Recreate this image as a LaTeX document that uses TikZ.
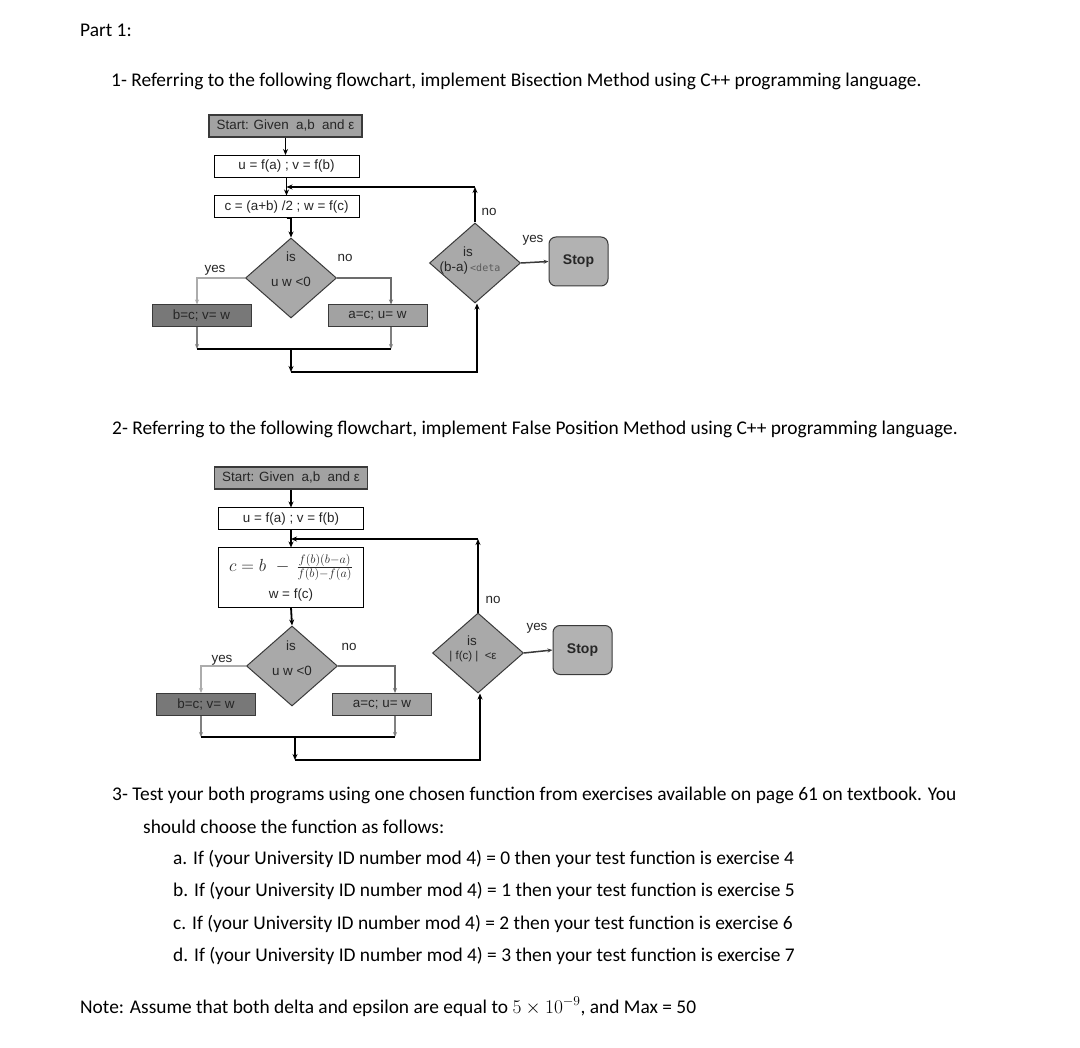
\RequirePackage{fix-cm}
\documentclass[tikz,border=0pt]{standalone}
\usepackage{fontspec}
\usepackage{amsmath}
\setmainfont{Carlito}
\newfontfamily\chartfont{Liberation Sans}
\newfontfamily\detafont{DejaVu Sans Mono}
\usetikzlibrary{shapes.geometric,arrows.meta}

\definecolor{boxline}{HTML}{3A3A3A}
\definecolor{boxgray}{HTML}{A2A2A2}
\definecolor{boxdark}{HTML}{787878}
\definecolor{diagray}{HTML}{A9A9A9}
\definecolor{stopgray}{HTML}{B2B2B2}
\definecolor{inktext}{HTML}{262626}

\tikzset{
	chart/.style={font=\chartfont\fontsize{13.4}{15}\selectfont,text=inktext},
	startbox/.style={chart,draw=boxline,fill=boxgray,line width=1.2pt,minimum width=153pt,minimum height=22pt,inner sep=0pt},
	procbox/.style={chart,draw=black,fill=white,line width=1pt,minimum width=145pt,minimum height=22pt,inner sep=0pt,align=center},
	yesbox/.style={chart,draw=boxline,fill=boxdark,line width=1pt,minimum width=99pt,minimum height=22pt,inner sep=0pt},
	nobox/.style={chart,draw=boxline,fill=boxgray,line width=1pt,minimum width=99pt,minimum height=22pt,inner sep=0pt},
	decision/.style={chart,diamond,draw=boxline,fill=diagray,line width=1pt,minimum width=91pt,minimum height=80pt,inner sep=0pt},
	stopbox/.style={chart,draw=boxline,fill=stopgray,rounded corners=7pt,line width=1pt,minimum width=59pt,minimum height=49pt,font=\chartfont\bfseries\fontsize{14}{16}\selectfont},
	tag/.style={chart,inner sep=0pt},
	flow/.style={line width=1.8pt,-{Stealth[length=6pt,width=5pt]}},
	flowline/.style={line width=1.8pt},
	branch/.style={line width=1.1pt,draw=gray,-{Stealth[length=5pt,width=4pt]}},
	para/.style={font=\fontsize{19.4}{23}\selectfont,anchor=base west,inner sep=0pt},
}

\begin{document}
\begin{tikzpicture}[x=1pt,y=-1pt]
	\fill[white] (0,0) rectangle (1080,1048);
	\useasboundingbox (0,0) rectangle (1080,1048);

	\node[para] (part) at (80,37) {Part 1:};
	\node[para] (task1) at (111,87) {1- Referring to the following flowchart, implement Bisection Method using C++ programming language.};

	\node[startbox] (start1) at (285.5,126) {Start: Given\ \ a,b\ \ and ε};
	\node[procbox] (init1) at (286.5,166.5) {u = f(a) ; v = f(b)};
	\node[procbox] (mid1) at (286.5,207) {c = (a+b) /2 ; w = f(c)};
	\node[decision] (test1) at (291,278) {};
	\node[tag] (test1a) at (291,257) {is};
	\node[tag] (test1b) at (291,282) {u w <0};
	\node[yesbox] (left1) at (201.5,316) {b=c; v= w};
	\node[nobox] (right1) at (377.5,316) {a=c; u= w};
	\node[decision] (test2) at (475,263) {};
	\node[tag] (test2a) at (468,252) {is};
	\node[tag] (test2b) at (470,268) {(b-a)\,{\detafont\fontsize{10}{12}\selectfont\color{inktext!75}<deta}};
	\node[stopbox] (stop1) at (578.5,261.5) {Stop};
	\node[tag] (yes1) at (215,270) {yes};
	\node[tag] (no1) at (345,258) {no};
	\node[tag] (no2) at (489,212) {no};
	\node[tag] (yes2) at (533,240) {yes};
	\coordinate (join1) at (291,349);
	\coordinate (back1) at (291,372);
	\coordinate (loop1) at (475,187);

	\draw[flow] (start1.south) -- (start1.south |- init1.north);
	\draw[flow] (init1) -- (mid1);
	\draw[flow] (mid1.south) -- (mid1.south -| test1.north) -- (test1.north);
	\draw[branch,draw=gray!65] (test1.west) -| ([xshift=-4.5pt]left1.north);
	\draw[branch,draw=gray!85!black] (test1.east) -| ([xshift=13.5pt]right1.north);
	\draw[branch] ([xshift=-4.5pt]left1.south) -- ([xshift=-4.5pt]left1.south |- join1);
	\draw[branch] ([xshift=13.5pt]right1.south) -- ([xshift=13.5pt]right1.south |- join1);
	\draw[flowline] ([xshift=-4.5pt]left1.south |- join1) -- ([xshift=13.5pt]right1.south |- join1);
	\draw[flow] (join1) -- (back1);
	\draw[flow] (back1) -| ([xshift=2pt]test2.south);
	\draw[flow] (test2.north) -- (loop1);
	\draw[flow] (loop1) -- (loop1 -| mid1.north);
	\draw[branch,draw=boxline,line width=1.5pt] (test2.east) -- (stop1.west);

	\node[para] (task2) at (112,435) {2- Referring to the following flowchart, implement False Position Method using C++ programming language.};

	\node[startbox] (start2) at (291,478) {Start: Given\ \ a,b\ \ and ε};
	\node[procbox] (init2) at (291,519) {u = f(a) ; v = f(b)};
	\node[procbox,minimum height=59pt] (mid2) at (291,577.5) {{\fontsize{17.5}{20}\selectfont$c = b\,\,-\,\frac{f(b)(b-a)}{f(b)-f(a)}$}\\[7pt]w = f(c)};
	\node[decision] (test3) at (292,666) {};
	\node[tag] (test3a) at (291,646) {is};
	\node[tag] (test3b) at (292,671) {u w <0};
	\node[yesbox] (left2) at (206,704.5) {b=c; v= w};
	\node[nobox] (right2) at (382,704.5) {a=c; u= w};
	\node[decision] (test4) at (478,653) {};
	\node[tag] (test4a) at (472,641) {is};
	\node[tag,font=\chartfont\fontsize{11.5}{13}\selectfont] (test4b) at (473,657) {| f(c) |\ \ <ε};
	\node[stopbox] (stop2) at (582.5,650) {Stop};
	\node[tag] (yes3) at (222,660) {yes};
	\node[tag] (no3) at (349,647) {no};
	\node[tag] (no4) at (493,600) {no};
	\node[tag] (yes4) at (537,628) {yes};
	\coordinate (join2) at (295,737);
	\coordinate (back2) at (295,760);
	\coordinate (loop2) at (478,539);

	\draw[flow] (start2) -- (init2);
	\draw[flow] (init2) -- (mid2);
	\draw[flow] (mid2.south) -- (test3.north);
	\draw[branch,draw=gray!65] (test3.west) -| ([xshift=-5pt]left2.north);
	\draw[branch,draw=gray!85!black] (test3.east) -| ([xshift=13pt]right2.north);
	\draw[branch] ([xshift=-5pt]left2.south) -- ([xshift=-5pt]left2.south |- join2);
	\draw[branch] ([xshift=13pt]right2.south) -- ([xshift=13pt]right2.south |- join2);
	\draw[flowline] ([xshift=-5pt]left2.south |- join2) -- ([xshift=13pt]right2.south |- join2);
	\draw[flow] (join2) -- (back2);
	\draw[flow] (back2) -| ([xshift=2pt]test4.south);
	\draw[flow] (test4.north) -- (loop2);
	\draw[flow] (loop2) -- (loop2 -| mid2.north);
	\draw[branch,draw=boxline,line width=1.5pt] (test4.east) -- (stop2.west);

	\node[para] (task3) at (112,800) {3- Test your both programs using one chosen function from exercises available on page 61 on textbook. You};
	\node[para] (task3b) at (143,833) {should choose the function as follows:};
	\node[para] (opta) at (173,864) {a. If (your University ID number mod 4) = 0 then your test function is exercise 4};
	\node[para] (optb) at (173,896) {b. If (your University ID number mod 4) = 1 then your test function is exercise 5};
	\node[para] (optc) at (173,929) {c. If (your University ID number mod 4) = 2 then your test function is exercise 6};
	\node[para] (optd) at (173,961) {d. If (your University ID number mod 4) = 3 then your test function is exercise 7};
	\node[para] (note) at (80,1013) {Note: Assume that both delta and epsilon are equal to $5 \times 10^{-9}$, and Max = 50};
\end{tikzpicture}
\end{document}
